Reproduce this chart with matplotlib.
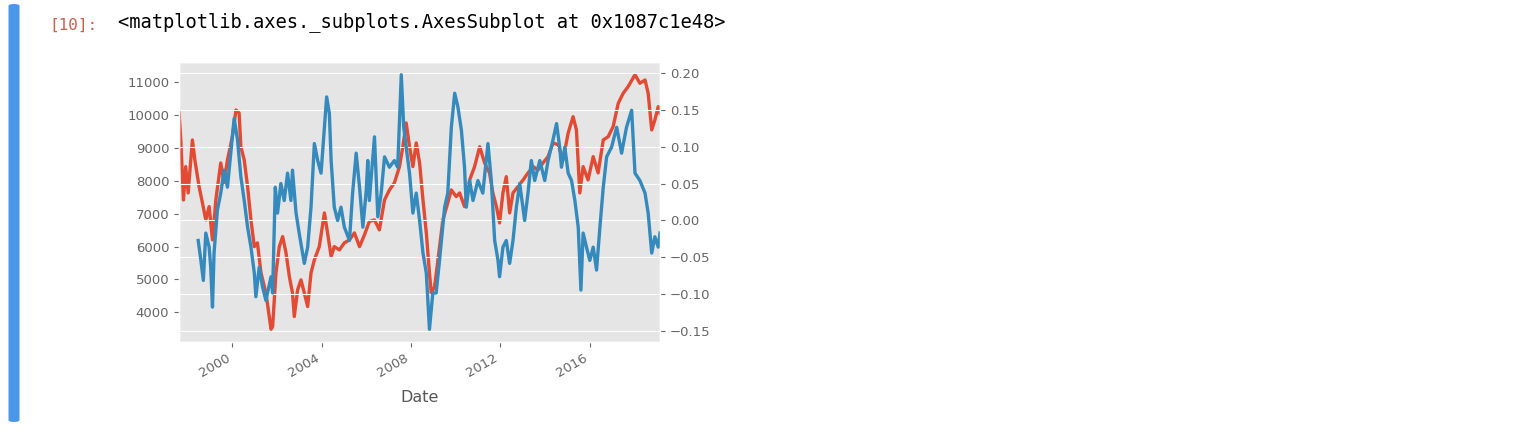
import matplotlib
matplotlib.use("Agg")
import matplotlib.pyplot as plt
import matplotlib.dates as mdates
from matplotlib.ticker import MultipleLocator
from matplotlib.patches import FancyBboxPatch
import pandas as pd

# values (decimal year, value)
red_years = [1997.62, 1997.70, 1997.82, 1997.92, 1998.03, 1998.22, 1998.33, 1998.52, 1998.67, 1998.82,
             1998.97, 1999.12, 1999.27, 1999.49, 1999.64, 1999.79, 2000.01, 2000.17, 2000.31, 2000.39,
             2000.54, 2000.69, 2000.84, 2000.99, 2001.13, 2001.29, 2001.51, 2001.74, 2001.81, 2001.96,
             2002.11, 2002.26, 2002.41, 2002.56, 2002.70, 2002.78, 2002.93, 2003.08, 2003.23, 2003.38,
             2003.53, 2003.68, 2003.90, 2004.13, 2004.27, 2004.43, 2004.57, 2004.80, 2005.02, 2005.25,
             2005.47, 2005.70, 2005.92, 2006.14, 2006.37, 2006.59, 2006.82, 2007.04, 2007.26, 2007.49,
             2007.64, 2007.79, 2007.94, 2008.09, 2008.24, 2008.39, 2008.54, 2008.69, 2008.83, 2008.91,
             2009.06, 2009.21, 2009.43, 2009.65, 2009.81, 2010.03, 2010.18, 2010.40, 2010.63, 2010.85,
             2011.08, 2011.30, 2011.52, 2011.67, 2011.83, 2011.97, 2012.12, 2012.27, 2012.42, 2012.57,
             2012.79, 2013.02, 2013.24, 2013.47, 2013.69, 2013.91, 2014.14, 2014.36, 2014.59, 2014.81,
             2015.04, 2015.26, 2015.41, 2015.56, 2015.71, 2015.93, 2016.16, 2016.38, 2016.61, 2016.83,
             2017.05, 2017.28, 2017.50, 2017.72, 2018.03, 2018.25, 2018.48, 2018.62, 2018.78, 2018.92,
             2019.07, 2019.15]
red_values = [10105, 9244, 7418, 8432, 7631, 9244, 8636, 7823, 7327, 6810,
              7215, 6201, 7418, 8544, 7936, 8636, 9345, 10157, 10066, 9040,
              8636, 7823, 6810, 5997, 6110, 5197, 4588, 3480, 3563, 5197,
              5997, 6302, 5806, 5084, 4588, 3867, 4680, 4984, 4588, 4171,
              5197, 5593, 5997, 7023, 6414, 5693, 5997, 5897, 6110, 6201,
              6414, 5997, 6353, 6760, 6810, 6506, 7418, 7723, 7936, 8432,
              9040, 9761, 9040, 8432, 9153, 8544, 7418, 6414, 5197, 4588,
              4780, 5593, 6810, 7327, 7723, 7519, 7631, 7215, 8027, 8432,
              9040, 8544, 8240, 7631, 7215, 6719, 7631, 8127, 7023, 7631,
              7823, 8027, 8240, 8432, 8331, 8544, 8736, 9153, 9100, 8636,
              9457, 9953, 9548, 7631, 8432, 8027, 8736, 8240, 9244, 9345,
              9649, 10361, 10665, 10866, 11230, 10970, 11070, 10665, 9548, 9853,
              10258, 10066]

blue_years = [1998.48, 1998.60, 1998.71, 1998.82, 1998.97, 1999.04, 1999.12, 1999.19, 1999.34, 1999.49,
              1999.64, 1999.79, 1999.94, 2000.09, 2000.24, 2000.39, 2000.54, 2000.69, 2000.84, 2000.99,
              2001.06, 2001.21, 2001.36, 2001.51, 2001.58, 2001.74, 2001.81, 2001.93, 2002.03, 2002.18,
              2002.33, 2002.48, 2002.63, 2002.70, 2002.86, 2003.00, 2003.15, 2003.23, 2003.38, 2003.53,
              2003.68, 2003.83, 2003.98, 2004.13, 2004.23, 2004.35, 2004.43, 2004.57, 2004.72, 2004.87,
              2005.02, 2005.25, 2005.39, 2005.55, 2005.70, 2005.85, 2006.00, 2006.07, 2006.14, 2006.37,
              2006.52, 2006.67, 2006.82, 2007.04, 2007.26, 2007.41, 2007.57, 2007.68, 2007.79, 2007.94,
              2008.09, 2008.24, 2008.39, 2008.54, 2008.69, 2008.83, 2008.98, 2009.13, 2009.28, 2009.51,
              2009.65, 2009.81, 2009.96, 2010.10, 2010.26, 2010.40, 2010.48, 2010.63, 2010.78, 2011.00,
              2011.22, 2011.45, 2011.60, 2011.75, 2011.90, 2011.97, 2012.12, 2012.27, 2012.42, 2012.57,
              2012.72, 2012.87, 2013.09, 2013.24, 2013.39, 2013.54, 2013.77, 2013.99, 2014.14, 2014.36,
              2014.52, 2014.66, 2014.74, 2014.89, 2015.04, 2015.19, 2015.34, 2015.49, 2015.61, 2015.71,
              2015.86, 2016.01, 2016.16, 2016.31, 2016.46, 2016.61, 2016.76, 2016.98, 2017.21, 2017.43,
              2017.65, 2017.88, 2018.03, 2018.25, 2018.48, 2018.62, 2018.78, 2018.92, 2019.07, 2019.15]
blue_values = [-0.027, -0.054, -0.081, -0.017, -0.036, -0.063, -0.117, -0.044, 0.014, 0.037,
               0.068, 0.045, 0.091, 0.138, 0.109, 0.059, 0.027, -0.009, -0.036, -0.071,
               -0.103, -0.063, -0.090, -0.108, -0.098, -0.076, -0.098, 0.045, 0.010, 0.050,
               0.027, 0.064, 0.027, 0.068, 0.010, -0.017, -0.044, -0.058, -0.036, 0.018,
               0.104, 0.081, 0.064, 0.126, 0.167, 0.145, 0.081, 0.018, 0.000, 0.018,
               -0.009, -0.027, 0.037, 0.091, 0.045, -0.009, 0.040, 0.081, 0.027, 0.113,
               0.005, 0.037, 0.086, 0.072, 0.081, 0.072, 0.197, 0.126, 0.099, 0.064,
               0.010, 0.037, 0.000, -0.044, -0.071, -0.147, -0.098, -0.098, -0.054, 0.018,
               0.037, 0.126, 0.172, 0.154, 0.122, 0.072, 0.018, 0.054, 0.027, 0.054,
               0.037, 0.104, 0.054, -0.027, -0.054, -0.076, -0.036, -0.027, -0.058, -0.027,
               0.018, 0.050, 0.000, 0.037, 0.081, 0.054, 0.081, 0.054, 0.081, 0.109,
               0.131, 0.099, 0.072, 0.099, 0.064, 0.054, 0.027, -0.009, -0.094, -0.017,
               -0.036, -0.054, -0.036, -0.067, -0.009, 0.045, 0.086, 0.099, 0.126, 0.091,
               0.126, 0.149, 0.064, 0.054, 0.037, 0.010, -0.044, -0.022, -0.036, -0.017]


def to_dates(years):
    out = []
    for y in years:
        yr = int(y)
        start = pd.Timestamp(yr, 1, 1)
        out.append(start + (pd.Timestamp(yr + 1, 1, 1) - start) * (y - yr))
    return pd.DatetimeIndex(out)


red = pd.Series(red_values, index=to_dates(red_years))
blue = pd.Series(blue_values, index=to_dates(blue_years))

plt.style.use("ggplot")
W, H = 1536, 436
fig = plt.figure(figsize=(W / 100, H / 100), dpi=100)

# notebook chrome: selected-cell bar, prompt and repr text
fig.patches.append(FancyBboxPatch((8.5 / W, 1 - 422 / H), 11 / W, 418 / H,
                                  boxstyle="round,pad=0,rounding_size=0.004",
                                  transform=fig.transFigure, facecolor="#4a97ea",
                                  edgecolor="none"))
fig.text(49 / W, 1 - 25 / H, "[10]:", family="DejaVu Sans Mono", fontsize=11.5,
         color="#c46350", va="center", ha="left")
fig.text(118 / W, 1 - 22 / H, "<matplotlib.axes._subplots.AxesSubplot at 0x1087c1e48>",
         family="DejaVu Sans Mono", fontsize=13.5, color="black", va="center", ha="left")

ax = fig.add_axes([179 / W, 1 - 342 / H, 481 / W, 280 / H])
ax.plot(red.index, red.values, color="#E24A33", lw=2.4)
ax.grid(False)
ax2 = ax.twinx()
ax2.plot(blue.index, blue.values, color="#348ABD", lw=2.4)

ax.set_xlim(red.index[0], red.index[-1])
ax.xaxis.set_major_locator(mdates.YearLocator(4))
ax.xaxis.set_major_formatter(mdates.DateFormatter("%Y"))
ax.yaxis.set_major_locator(MultipleLocator(1000))
ax2.yaxis.set_major_locator(MultipleLocator(0.05))
ax2.yaxis.set_major_formatter(matplotlib.ticker.FuncFormatter(
    lambda v, p: f"{v:.2f}".replace("-", "\u2212")))

for a in (ax, ax2):
    a.tick_params(labelsize=9.5, colors="#666666")
for lab in ax.get_xticklabels():
    lab.set_rotation(30)
    lab.set_ha("right")
ax.set_xlabel("Date", fontsize=11.5, color="#555555", labelpad=7)

fig.savefig("out.png", dpi=100)
